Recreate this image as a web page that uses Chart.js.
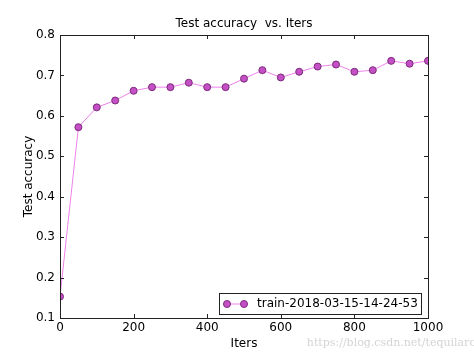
<!DOCTYPE html>
<html>
<head>
<meta charset="utf-8">
<script src="https://cdn.jsdelivr.net/npm/chart.js@4.4.1/dist/chart.umd.min.js"></script>
<style>
  html, body { margin: 0; padding: 0; background: #fff; }
  #wrap { width: 474px; height: 355px; }
</style>
</head>
<body>
<div id="wrap"><canvas id="myChart" width="474" height="355"></canvas></div>
<script>
var iters = [0, 50, 100, 150, 200, 250, 300, 350, 400, 450, 500, 550, 600, 650, 700, 750, 800, 850, 900, 950, 1000];
var accuracy = [0.153, 0.572, 0.621, 0.638, 0.662, 0.671, 0.671, 0.682, 0.671, 0.671, 0.692, 0.713, 0.695, 0.709, 0.722, 0.727, 0.709, 0.713, 0.736, 0.729, 0.736];
var seriesName = 'train-2018-03-15-14-24-53';
var xTicks = [0, 200, 400, 600, 800, 1000];
var yTicks = [0.1, 0.2, 0.3, 0.4, 0.5, 0.6, 0.7, 0.8];

var font = "'DejaVu Sans', sans-serif";
var lineColor = '#ee82ee';
var markerFill = '#c54fc5';
var markerEdge = '#7a2a7a';

// matplotlib style: title over the axes, box round the plot, ticks pointing inward
var boxTicks = {
  id: 'boxTicks',
  afterDraw: function(chart) {
    var ctx = chart.ctx, a = chart.chartArea;
    var xs = chart.scales.x, ys = chart.scales.y;
    ctx.save();
    ctx.fillStyle = '#000';
    ctx.font = '12px ' + font;
    ctx.textAlign = 'center';
    ctx.textBaseline = 'middle';
    ctx.fillText('Test accuracy  vs. Iters', (a.left + a.right) / 2, 24);

    ctx.strokeStyle = '#222';
    ctx.lineWidth = 1;
    ctx.beginPath();
    xTicks.forEach(function(v) {
      var px = Math.round(xs.getPixelForValue(v)) + 0.5;
      ctx.moveTo(px, a.bottom); ctx.lineTo(px, a.bottom - 4);
      ctx.moveTo(px, a.top); ctx.lineTo(px, a.top + 4);
    });
    yTicks.forEach(function(v) {
      var py = Math.round(ys.getPixelForValue(v)) + 0.5;
      ctx.moveTo(a.left, py); ctx.lineTo(a.left + 4, py);
      ctx.moveTo(a.right, py); ctx.lineTo(a.right - 4, py);
    });
    ctx.stroke();
    ctx.strokeRect(Math.round(a.left) + 0.5, Math.round(a.top) + 0.5,
                   Math.round(a.right - a.left), Math.round(a.bottom - a.top));

    // legend, lower right inside the axes
    var lx = 219, ly = 293, lw = 202, lh = 21;
    ctx.fillStyle = '#fff';
    ctx.fillRect(lx, ly, lw, lh);
    ctx.strokeRect(lx + 0.5, ly + 0.5, lw, lh);
    var cy = ly + lh / 2 + 0.5;
    ctx.strokeStyle = lineColor;
    ctx.beginPath(); ctx.moveTo(227, cy); ctx.lineTo(244, cy); ctx.stroke();
    [227, 244].forEach(function(mx) {
      ctx.beginPath();
      ctx.arc(mx, cy, 3.5, 0, Math.PI * 2);
      ctx.fillStyle = markerFill; ctx.fill();
      ctx.strokeStyle = markerEdge; ctx.stroke();
    });
    ctx.fillStyle = '#000';
    ctx.textAlign = 'left';
    ctx.fillText(seriesName, 257, cy);

    // watermark
    ctx.fillStyle = 'rgba(205,205,205,0.85)';
    ctx.font = '11px "DejaVu Serif", serif';
    ctx.textAlign = 'right';
    ctx.fillText('https://blog.csdn.net/tequilaro', 476, 343);
    ctx.restore();
  }
};

const data = {
  datasets: [{
    label: seriesName,
    data: iters.map(function(x, i) { return { x: x, y: accuracy[i] }; }),
    borderColor: lineColor,
    borderWidth: 1,
    pointRadius: 3.5,
    pointBackgroundColor: markerFill,
    pointBorderColor: markerEdge,
    pointBorderWidth: 1,
    tension: 0
  }]
};

const config = {
  type: 'line',
  data: data,
  options: {
    responsive: false,
    animation: false,
    layout: { padding: { left: 0, right: 46, top: 35, bottom: 0 } },
    plugins: {
      legend: { display: false },
      tooltip: { enabled: false },
      title: { display: false }
    },
    scales: {
      x: {
        type: 'linear',
        min: 0, max: 1000,
        afterBuildTicks: function(s) { s.ticks = xTicks.map(function(v) { return { value: v }; }); },
        afterFit: function(s) { s.height = 37; },
        grid: { display: false, drawTicks: false },
        border: { display: false },
        ticks: { color: '#000', padding: 3, maxRotation: 0, font: { family: font, size: 12 },
                 callback: function(v) { return String(v); } },
        title: { display: true, text: 'Iters', color: '#000', font: { family: font, size: 12 }, padding: { top: 0, bottom: 4 } }
      },
      y: {
        min: 0.1, max: 0.8,
        afterBuildTicks: function(s) { s.ticks = yTicks.map(function(v) { return { value: v }; }); },
        afterFit: function(s) { s.width = 60; },
        grid: { display: false, drawTicks: false },
        border: { display: false },
        ticks: { color: '#000', padding: 5, font: { family: font, size: 12 },
                 callback: function(v) { return Number(v).toFixed(1); } },
        title: { display: true, text: 'Test accuracy', color: '#000', font: { family: font, size: 12 }, padding: { top: 22, bottom: 0 } }
      }
    }
  },
  plugins: [boxTicks]
};

const myChart = new Chart(document.getElementById('myChart'), config);
</script>
</body>
</html>
